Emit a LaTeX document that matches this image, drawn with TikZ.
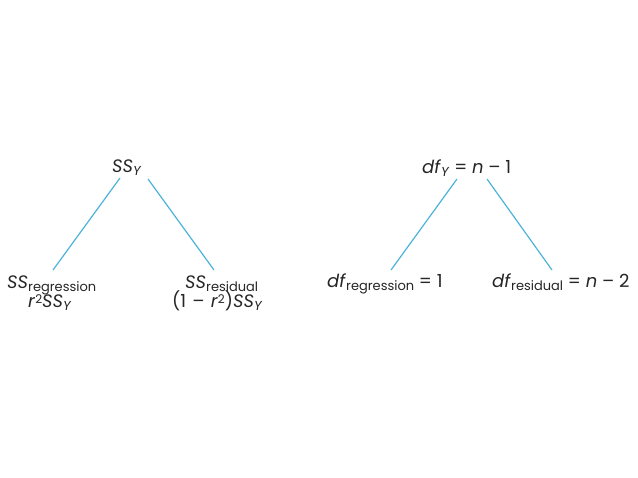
\documentclass[tikz,border=0pt]{standalone}
\usepackage{fontspec}
\setmainfont{Poppins}
\definecolor{linkblue}{RGB}{77,179,217}
\tikzset{
  lbl/.style={inner sep=0pt, anchor=base west, text=black!85, font=\fontsize{18}{21}\selectfont},
  conn/.style={draw=linkblue, line width=1.2pt}
}
\newcommand{\sub}[1]{\raisebox{-0.12em}{\fontsize{13}{15}\selectfont #1}}
\newcommand{\sqr}{\raisebox{0.25em}{\fontsize{12}{14}\selectfont 2}}
\begin{document}
\begin{tikzpicture}[x=1pt,y=-1pt]
\useasboundingbox[fill=white] (0,0) rectangle (638,478);
% left tree
\node[lbl] (ssy) at (112,173) {\textit{SS}\sub{\textit{Y}}};
\node[lbl] (ssreg) at (7,289) {\textit{SS}\sub{regression}};
\node[lbl] (ssreg2) at (28,308) {\textit{r}\sqr\textit{SS}\sub{\textit{Y}}};
\node[lbl] (ssres) at (185,289) {\textit{SS}\sub{residual}};
\node[lbl] (ssres2) at (172,308) {(1\hspace{0.35em}–\hspace{0.35em}\textit{r}\sqr)\textit{SS}\sub{\textit{Y}}};
\coordinate (a1) at (120,178);
\coordinate (a2) at (53,270);
\coordinate (b1) at (148,179);
\coordinate (b2) at (214,270);
\draw[conn] (a1) -- (a2);
\draw[conn] (b1) -- (b2);
% right tree
\node[lbl] (dfy) at (422,174) {\textit{df}\sub{\textit{Y}} = \textit{n} – 1};
\node[lbl] (dfreg) at (327,288) {\textit{df}\sub{regression} = 1};
\node[lbl] (dfres) at (492,288) {\textit{df}\sub{residual} = \textit{n} – 2};
\coordinate (c1) at (457,179);
\coordinate (c2) at (391,270);
\coordinate (d1) at (487,179);
\coordinate (d2) at (552,270);
\draw[conn] (c1) -- (c2);
\draw[conn] (d1) -- (d2);
\end{tikzpicture}
\end{document}
